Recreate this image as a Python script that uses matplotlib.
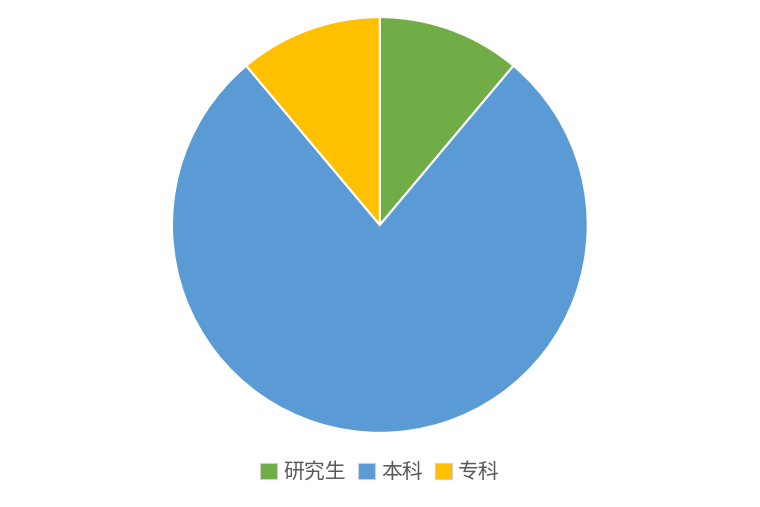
import matplotlib
matplotlib.use("Agg")
import matplotlib.pyplot as plt
from matplotlib.patches import Patch

plt.rcParams['font.family'] = ['Noto Sans CJK SC', 'DejaVu Sans']

labels = ['研究生', '本科', '专科']
values = [1, 7, 1]
colors = ['#70AD47', '#5B9BD5', '#FFC000']

fig = plt.figure(figsize=(7.6, 5.07), dpi=100, facecolor='white')
ax = fig.add_axes([0.2263, 0.146, 0.547, 0.8205])
ax.pie(values, colors=colors, startangle=90, counterclock=False,
       wedgeprops=dict(edgecolor='white', linewidth=1.5))
ax.set_xlim(-1.0, 1.0)
ax.set_ylim(-1.0, 1.0)
ax.set_aspect('equal')

handles = [Patch(facecolor=c, edgecolor='#d0d0d0', linewidth=0.8) for c in colors]
fig.legend(handles, labels, loc='center', bbox_to_anchor=(0.5, 0.069), ncol=3,
           frameon=False, fontsize=15, handlelength=0.8, handleheight=0.8,
           handletextpad=0.3, columnspacing=0.6, labelcolor='#595959')

fig.savefig('out.png', dpi=100)
